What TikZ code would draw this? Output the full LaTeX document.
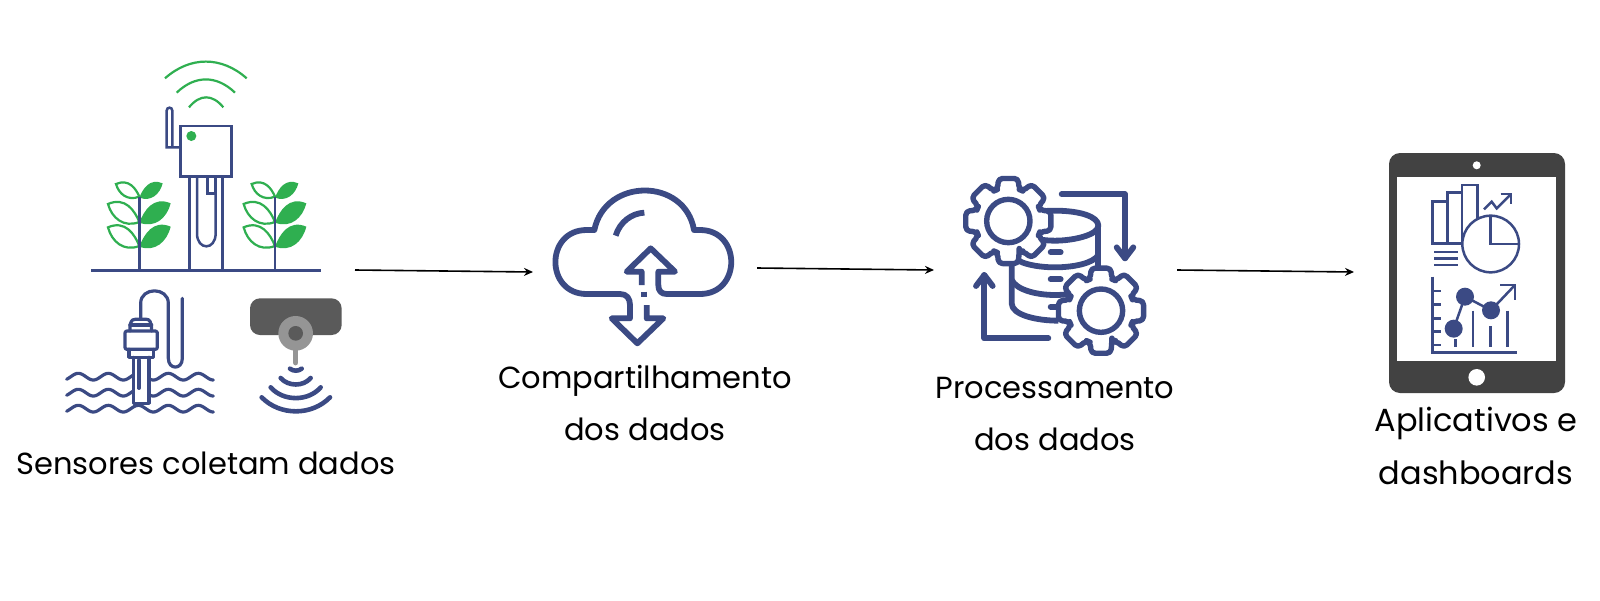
\documentclass[tikz,border=0pt]{standalone}
\usepackage{fontspec}
\setmainfont{Poppins}
\definecolor{navy}{HTML}{3B4A84}
\definecolor{sprout}{HTML}{2FAF50}
\definecolor{slatedark}{HTML}{424242}
\definecolor{sonardark}{HTML}{5A5A5A}
\definecolor{sonargray}{HTML}{959595}
\usetikzlibrary{arrows.meta}
\tikzset{
  zoomed/.style={x=1pt,y=-1pt,shift={#1},scale=1/3},
  thinnavy/.style={draw=navy,line width=2.5pt},
  midnavy/.style={draw=navy,line width=3.2pt,line cap=round,line join=round},
  heavynavy/.style={draw=navy,line width=5.8pt,line join=round},
  wifi/.style={draw=sprout,line width=2.2pt},
  caption/.style={align=center,font=\fontsize{30.5}{52}\selectfont,text=black,inner sep=0pt},
  flow/.style={draw=black,line width=1.6pt,-{Stealth[length=9pt,width=8pt]}}
}
% leaf: tip x,y, base x,y, style
\newcommand{\leafshape}[5]{%
  \pgfmathsetmacro{\ddx}{#3-#1}\pgfmathsetmacro{\ddy}{#4-#2}%
  \pgfmathsetmacro{\ax}{#1+0.55*\ddx}\pgfmathsetmacro{\ay}{#2-0.24*abs(\ddx)}%
  \pgfmathsetmacro{\bx}{#3-0.15*\ddx}\pgfmathsetmacro{\by}{#4-0.50*abs(\ddy)-0.08*abs(\ddx)}%
  \pgfmathsetmacro{\cx}{#3-0.5*\ddx}\pgfmathsetmacro{\cy}{#4+0.25*abs(\ddx)-0.1*abs(\ddy)}%
  \pgfmathsetmacro{\dx}{#1+0.12*\ddx}\pgfmathsetmacro{\dy}{#2+0.60*abs(\ddy)+0.10*abs(\ddx)}%
  \path[#5] (#1,#2) .. controls (\ax,\ay) and (\bx,\by) .. (#3,#4) .. controls (\cx,\cy) and (\dx,\dy) .. (#1,#2) -- cycle;}
\newcommand{\gearicon}[2]{%
  \begin{scope}[shift={(#1,#2)}]
    \draw[navy,line width=5.4pt,fill=white,rounded corners=4pt,line join=round]
      (71:100)
      \foreach \a in {90,135,180,225,270,315,0,45}{
        -- ({\a-19}:100) -- ({\a-13}:131) -- ({\a+13}:131) -- ({\a+19}:100)
      } -- cycle;
    \draw[navy,line width=5.4pt,fill=white] (0,0) circle[radius=65];
  \end{scope}}
\begin{document}
\begin{tikzpicture}[x=1pt,y=-1pt]
\useasboundingbox (0,0) rectangle (1600,600);
\fill[white] (0,0) rectangle (1600,600);

% ---- field sensor
\begin{scope}[zoomed={(50,50)}]
  \draw[wifi] (345,85) .. controls (420,18) and (515,18) .. (590,85);
  \draw[wifi] (380,128) .. controls (435,75) and (500,75) .. (555,128);
  \draw[wifi] (417,172) .. controls (450,132) and (487,132) .. (520,172);
  \foreach \s in {0,407}{
    \begin{scope}[shift={(\s,0)}]
      \leafshape{198}{402}{268}{440}{draw=sprout,line width=2.2pt}
      \leafshape{174}{462}{268}{516}{draw=sprout,line width=2.2pt}
      \leafshape{174}{532}{268}{588}{draw=sprout,line width=2.2pt}
      \leafshape{338}{400}{268}{443}{fill=sprout}
      \leafshape{362}{460}{268}{518}{fill=sprout}
      \leafshape{362}{530}{268}{590}{fill=sprout}
      \draw[thinnavy] (268,440) -- (268,660);
    \end{scope}
  }
  \draw[thinnavy] (418,380) -- (418,660);
  \draw[thinnavy] (517,380) -- (517,660);
  \draw[thinnavy] (441,380) -- (441,550) .. controls (441,602) and (497,602) .. (497,550) -- (497,430);
  \draw[thinnavy] (472,380) -- (472,430) -- (497,430) -- (497,380);
  \draw[thinnavy] (391,228) rectangle (545,380);
  \draw[thinnavy] (391,292) -- (350,292) -- (350,182) .. controls (350,170) and (367,170) .. (367,182) -- (367,292);
  \fill[sprout] (424,258) circle[radius=15];
  \draw[navy,line width=3pt] (123,660) -- (812,660);
\end{scope}

% ---- water probe and sonar
\begin{scope}[zoomed={(50,270)}]
  \foreach \y in {320,368}{
    \draw[midnavy] plot[domain=50:248,samples=60] (\x,{\y-10*cos((\x-85)*4)});
    \draw[midnavy] plot[domain=300:490,samples=60] (\x,{\y-10*cos((\x-85)*4)});
  }
  \draw[midnavy] (272,148) -- (272,100) .. controls (272,50) and (355,50) .. (355,100) -- (355,265) .. controls (355,300) and (397,300) .. (397,265) -- (397,85);
  \draw[midnavy] (240,183) -- (240,165) .. controls (245,148) and (250,148) .. (255,148) -- (290,148) .. controls (298,148) and (305,155) .. (305,183);
  \draw[midnavy] (240,165) -- (305,165);
  \draw[midnavy,rounded corners=2pt] (225,183) rectangle (322,238);
  \draw[midnavy] (237,238) -- (237,262) -- (310,262) -- (310,238);
  \draw[midnavy] (250,262) -- (250,400) -- (297,400) -- (297,262);
  \draw[midnavy] (267,270) -- (267,355);
  \draw[midnavy] plot[domain=50:490,samples=110] (\x,{416-10*cos((\x-85)*4)});
  \fill[sonardark,rounded corners=10pt] (600,85) rectangle (875,195);
  \draw[sonargray,line width=5.5pt,line cap=round] (737,235) -- (737,278);
  \fill[sonargray] (737,190) circle[radius=52];
  \fill[sonardark] (737,190) circle[radius=22];
  \draw[navy,line width=4.6pt,line cap=round] (720,296) .. controls (730,304) and (745,304) .. (755,296);
  \draw[navy,line width=4.6pt,line cap=round] (692,324) .. controls (715,350) and (760,350) .. (782,324);
  \draw[navy,line width=4.6pt,line cap=round] (662,352) .. controls (700,395) and (775,395) .. (812,352);
  \draw[navy,line width=4.6pt,line cap=round] (635,382) .. controls (690,438) and (785,438) .. (840,382);
\end{scope}

% ---- cloud
\begin{scope}[zoomed={(530,170)}]
  \draw[heavynavy] (350,405) -- (350,445) -- (400,445) -- (322,520) -- (245,445) -- (300,445) -- (300,405)
    .. controls (300,385) and (290,372) .. (270,372) -- (170,372)
    .. controls (45,372) and (45,180) .. (170,180) -- (193,180)
    .. controls (225,22) and (465,22) .. (492,180) -- (510,180)
    .. controls (635,180) and (635,372) .. (510,372) -- (410,372)
    .. controls (393,372) and (385,362) .. (385,345) -- (385,305) -- (435,305) -- (362,235) -- (290,305) -- (335,305) -- (335,345);
  \draw[heavynavy] (257,197) .. controls (270,155) and (305,130) .. (343,128);
  \draw[heavynavy] (342,365) -- (342,382);
\end{scope}

% ---- database and gears
\begin{scope}[zoomed={(930,160)}]
  \draw[heavynavy] (375,152) .. controls (450,152) and (505,170) .. (505,197) .. controls (505,225) and (430,242) .. (375,242) .. controls (320,242) and (245,225) .. (245,197) .. controls (245,170) and (300,152) .. (375,152);
  \draw[heavynavy] (505,197) -- (505,360);
  \draw[heavynavy] (245,197) -- (245,430) .. controls (245,465) and (320,482) .. (385,482);
  \draw[heavynavy] (245,285) .. controls (260,310) and (320,322) .. (375,322) .. controls (430,322) and (490,310) .. (505,285);
  \draw[heavynavy] (245,360) .. controls (260,390) and (320,405) .. (375,405) .. controls (410,405) and (440,400) .. (460,390);
  \draw[heavynavy,line cap=round] (362,277) -- (392,277);
  \draw[heavynavy,line cap=round] (362,358) -- (392,358);
  \draw[heavynavy,line cap=round] (362,440) -- (392,440);
  \gearicon{235}{183}
  \gearicon{513}{452}
  \draw[heavynavy,line cap=round] (395,103) -- (585,103) -- (585,295);
  \draw[heavynavy,line cap=round] (560,262) -- (585,295) -- (610,262);
  \draw[heavynavy,line cap=round] (355,535) -- (163,535) -- (163,345);
  \draw[heavynavy,line cap=round] (138,378) -- (163,345) -- (188,378);
\end{scope}

% ---- tablet
\fill[slatedark,rounded corners=11pt] (1389,153) rectangle (1565,393);
\fill[white] (1396.7,177.3) rectangle (1556,361);
\fill[white] (1476.7,165.3) circle[radius=4];
\fill[white] (1476.7,377.3) circle[radius=8.3];
\begin{scope}[zoomed={(1350,140)}]
  \draw[thinnavy] (383,240) -- (383,135) -- (336,135) -- (336,310);
  \draw[thinnavy] (336,158) -- (293,158) -- (293,310);
  \draw[thinnavy] (293,185) -- (247,185) -- (247,310) -- (340,310);
  \draw[thinnavy] (253,336) -- (325,336) (253,355) -- (325,355) (253,375) -- (325,375);
  \draw[thinnavy] (422,312) circle[radius=85];
  \draw[thinnavy] (422,228) -- (422,312) -- (507,312);
  \draw[thinnavy] (402,208) -- (425,185) -- (440,205) -- (480,165);
  \draw[thinnavy] (452,162) -- (483,162) -- (483,192);
  \draw[thinnavy] (247,410) -- (247,637) -- (502,637);
  \foreach \y in {453,493,535,575,615}{\draw[thinnavy] (247,\y) -- (272,\y);}
  \draw[thinnavy] (317,598) -- (317,622) (369,512) -- (369,622) (421,558) -- (421,622) (473,512) -- (473,622);
  \draw[thinnavy] (311,566) -- (345,470) -- (423,511) -- (495,435);
  \draw[thinnavy] (450,435) -- (495,435) -- (495,480);
  \fill[navy] (311,566) circle[radius=27];
  \fill[navy] (345,470) circle[radius=27];
  \fill[navy] (423,511) circle[radius=27];
\end{scope}

% ---- captions
\node[caption] (cap1) at (206,463) {Sensores coletam dados};
\node[caption] (cap2) at (645,403) {Compartilhamento\\dos dados};
\node[caption] (cap3) at (1055,414) {Processamento\\dos dados};
\node[caption,font=\fontsize{32}{53}\selectfont] (cap4) at (1476,446) {Aplicativos e\\dashboards};

% ---- connectors
\coordinate (a1) at (355,270); \coordinate (b1) at (533,272);
\coordinate (a2) at (757,268); \coordinate (b2) at (934,270);
\coordinate (a3) at (1177,270); \coordinate (b3) at (1354,272);
\draw[flow] (a1) -- (b1);
\draw[flow] (a2) -- (b2);
\draw[flow] (a3) -- (b3);
\end{tikzpicture}
\end{document}
